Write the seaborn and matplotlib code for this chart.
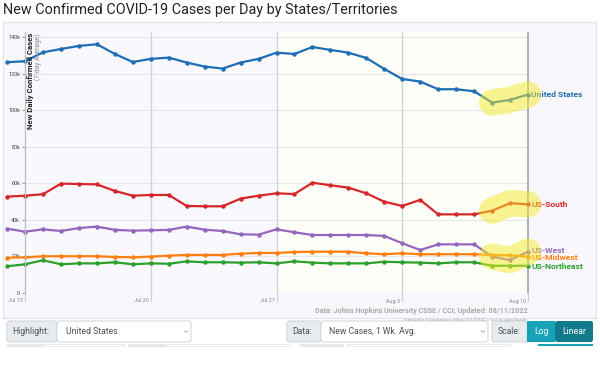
import numpy as np
import pandas as pd
import matplotlib.pyplot as plt
import matplotlib.dates as mdates
from matplotlib.patches import FancyBboxPatch, Rectangle
import seaborn as sns

sns.set_theme(style="white")
plt.rcParams['font.family'] = ['Roboto', 'DejaVu Sans']

# ------------------------------------------------------------
# data (7-day average of new daily cases)
# ------------------------------------------------------------
dates = pd.date_range("2022-07-12", "2022-08-10", freq="D")

us = [126.2, 126.7, 131.6, 133.4, 135.1, 136.0, 130.7, 126.3, 128.0, 128.7,
      126.0, 123.8, 122.7, 126.0, 128.0, 131.4, 130.7, 134.5, 132.9, 131.4,
      128.5, 122.5, 117.0, 115.6, 111.4, 111.4, 110.3, 104.1, 105.6, 108.5]
south = [52.7, 53.2, 54.0, 59.8, 59.6, 59.4, 55.8, 53.2, 53.6, 53.6,
         47.6, 47.4, 47.4, 51.6, 53.2, 54.5, 54.1, 60.3, 58.9, 57.6,
         54.5, 49.9, 47.6, 50.9, 43.0, 43.0, 43.0, 45.0, 49.1, 48.5]
west = [35.2, 33.5, 34.8, 33.9, 35.5, 36.3, 34.5, 34.1, 34.3, 34.5,
        36.3, 34.6, 33.9, 32.1, 31.9, 34.8, 33.2, 31.7, 31.7, 31.7,
        31.7, 31.2, 27.2, 23.5, 26.6, 26.6, 26.6, 19.9, 18.0, 22.6]
midwest = [19.3, 19.5, 20.1, 20.1, 20.1, 20.1, 19.7, 19.5, 19.9, 20.4,
           20.8, 20.8, 20.8, 21.5, 21.9, 21.9, 22.4, 22.6, 22.6, 22.6,
           21.7, 21.2, 21.7, 21.2, 21.2, 21.2, 21.2, 20.8, 20.6, 19.9]
northeast = [14.6, 15.7, 17.9, 15.7, 16.2, 16.2, 16.8, 15.7, 16.2, 16.0,
             17.3, 16.8, 16.8, 16.6, 16.8, 16.2, 17.3, 16.6, 16.2, 16.2,
             16.2, 17.1, 16.8, 16.6, 16.2, 16.8, 16.8, 14.9, 14.9, 14.9]

regions = ["United States", "US-South", "US-West", "US-Midwest", "US-Northeast"]
series = [us, south, west, midwest, northeast]
colors = ["#1f6db4", "#d62728", "#9467bd", "#ff7f0e", "#2ca02c"]
label_nudge = [0, 0, 1.5, -0.5, -0.5]   # px, to keep the end labels apart
highlighted = ["United States", "US-South", "US-West"]

xtick_dates = pd.to_datetime(["2022-07-13", "2022-07-20", "2022-07-27", "2022-08-03", "2022-08-10"])
xtick_labels = ["Jul 13", "Jul 20", "Jul 27", "Aug 3", "Aug 10"]
ytick_vals = [0, 20, 40, 60, 80, 100, 120, 140]
ytick_labels = ["0", "20k", "40k", "60k", "80k", "100k", "120k", "140k"]

df = pd.DataFrame({
    "date": np.tile(dates, len(regions)),
    "region": np.repeat(regions, len(dates)),
    "cases": np.concatenate([np.array(s) * 1000 for s in series]),
})

# ------------------------------------------------------------
# figure: 600x386 px, background layer in pixel coordinates
# ------------------------------------------------------------
W, H = 600, 386
fig = plt.figure(figsize=(W / 100, H / 100), dpi=100)
fig.patch.set_facecolor("white")

bg = fig.add_axes([0, 0, 1, 1], zorder=0)
bg.set_xlim(0, W)
bg.set_ylim(H, 0)
bg.axis("off")

bg.text(3, 10, "New Confirmed COVID-19 Cases per Day by States/Territories",
        fontsize=10.4, color="#222222", ha="left", va="center")

# chart panel
bg.add_patch(Rectangle((3, 22), 593, 296, facecolor="#f8f8fc", edgecolor="#e2e3ea", lw=0.8))

# footnotes
bg.text(528, 311, "Data: Johns Hopkins University CSSE / CCI; Updated: 08/11/2022",
        fontsize=5.2, color="#aaaaaa", fontweight="bold", ha="right", va="center")
bg.text(528, 319.5, "Interactive Visualization: https://91-DIVOC.com/ by @profwade_",
        fontsize=3.2, color="#aaaaaa", ha="right", va="center")


def box(x0, x1, y0, y1, face, edge="#ced4da"):
    bg.add_patch(FancyBboxPatch((x0, y0), x1 - x0, y1 - y0,
                                boxstyle="round,pad=0,rounding_size=2.5",
                                facecolor=face, edgecolor=edge, lw=0.7))


def chevron(x, y):
    bg.plot([x - 2, x, x + 2], [y - 1, y + 1, y - 1], color="#aaaaaa", lw=0.6)


# controls row
cy = 331.5
box(7, 57, 321, 342, "#e9ecef")
box(57, 191, 321, 342, "white")
bg.text(12, cy, "Highlight:", fontsize=6.2, color="#495057", va="center")
bg.text(66, cy, "United States", fontsize=6.2, color="#495057", va="center")
chevron(186, cy)

box(287, 321, 321, 342, "#e9ecef")
box(321, 488, 321, 342, "white")
bg.text(292, cy, "Data:", fontsize=6.2, color="#495057", va="center")
bg.text(329, cy, "New Cases, 1 Wk. Avg.", fontsize=6.2, color="#495057", va="center")
chevron(483, cy)

box(492, 527, 321, 342, "#e9ecef")
bg.text(498, cy, "Scale:", fontsize=6.2, color="#495057", va="center")
bg.add_patch(Rectangle((527, 321), 28, 21, facecolor="#17a2b8", edgecolor="none"))
bg.add_patch(FancyBboxPatch((555, 321), 38, 21, boxstyle="round,pad=0,rounding_size=2.5",
                            facecolor="#117a8b", edgecolor="none"))
bg.text(541, cy, "Log", fontsize=6.2, color="white", ha="center", va="center")
bg.text(574, cy, "Linear", fontsize=6.2, color="white", ha="center", va="center")

# next row of controls (cut off)
for x0, x1, face in [(7, 43, "#e9ecef"), (43, 124, "white"), (128, 165, "#e9ecef"),
                     (165, 290, "white"), (300, 343, "#e9ecef"), (347, 510, "white")]:
    bg.add_patch(Rectangle((x0, 343.5), x1 - x0, 2.5, facecolor=face, edgecolor="#dde0e4", lw=0.5))
bg.add_patch(Rectangle((538, 343.5), 55, 2.5, facecolor="#17a2b8", edgecolor="none"))

# ------------------------------------------------------------
# plot area (Jul 13 .. Aug 10, 0 .. ~143k)
# ------------------------------------------------------------
left, right, top, bottom = 25, 528, 32, 293
ax = fig.add_axes([left / W, 1 - bottom / H, (right - left) / W, (bottom - top) / H], zorder=1)
ax.set_facecolor("#f8f8fd")

ax.axvspan(pd.Timestamp("2022-07-27"), pd.Timestamp("2022-08-10"), color="#fefef8", zorder=0)
for v in ytick_vals[1:]:
    ax.axhline(v * 1000, color="#e6e6ee", lw=0.8, zorder=0.5)
for d in xtick_dates[1:-1]:
    ax.axvline(d, color="#cfcfd4", lw=0.9, zorder=0.6)
ax.axvline(xtick_dates[-1], color="#9a9a9a", lw=1.1, zorder=0.6)

sns.lineplot(data=df, x="date", y="cases", hue="region", hue_order=regions,
             palette=dict(zip(regions, colors)), marker="o", markersize=3.2,
             markeredgewidth=0, linewidth=1.6, legend=False, ax=ax, zorder=2)
for ln in ax.lines:
    ln.set_clip_on(False)

ax.set_xlim(xtick_dates[0], xtick_dates[-1])
ax.set_ylim(0, 142700)

for name in ["top", "right", "bottom"]:
    ax.spines[name].set_visible(False)
ax.spines["left"].set_color("#bdbdc4")
ax.spines["left"].set_linewidth(0.9)

ax.set_yticks([v * 1000 for v in ytick_vals])
ax.set_yticklabels(ytick_labels)
ax.tick_params(axis="y", length=2.5, width=0.6, color="#888888", pad=1,
               labelsize=4, labelcolor="#444444", left=True)
ax.set_xticks([])
ax.set_xlabel("")
ax.set_ylabel("")

# x tick labels sit to the left of short tick marks below the axis
for d, lab in zip(xtick_dates, xtick_labels):
    ax.plot([d, d], [0, -0.03], transform=ax.get_xaxis_transform(), color="#cfcfd4",
            lw=0.9, clip_on=False)
    ax.annotate(lab, xy=(mdates.date2num(d), 0), xycoords=("data", "axes fraction"),
                xytext=(-2, -8), textcoords="offset pixels",
                ha="right", va="center", fontsize=4, color="#888888")

ax.annotate("New Daily Confirmed Cases", xy=(0, 1), xycoords="axes fraction",
            xytext=(6, -1), textcoords="offset pixels", rotation=90,
            ha="center", va="top", fontsize=5.6, fontweight="bold", color="#222222")
ax.annotate("(7-day Average)", xy=(0, 1), xycoords="axes fraction",
            xytext=(13, -1), textcoords="offset pixels", rotation=90,
            ha="center", va="top", fontsize=4.8, color="#888888")

# end labels
for name, vals, col, nudge in zip(regions, series, colors, label_nudge):
    ax.annotate(name, xy=(mdates.date2num(dates[-1]), vals[-1] * 1000),
                xytext=(3, nudge), textcoords="offset pixels", ha="left", va="center",
                fontsize=6.1, fontweight="bold", color=col, annotation_clip=False)

# yellow highlighter marks over the last three days
for name, vals in zip(regions, series):
    if name in highlighted:
        ax.plot(dates[-3:], np.array(vals[-3:]) * 1000, color="#f4ea2c", alpha=0.5,
                lw=19, solid_capstyle="round", solid_joinstyle="round",
                clip_on=False, zorder=5)

fig.savefig("out.png", dpi=100, facecolor="white")
